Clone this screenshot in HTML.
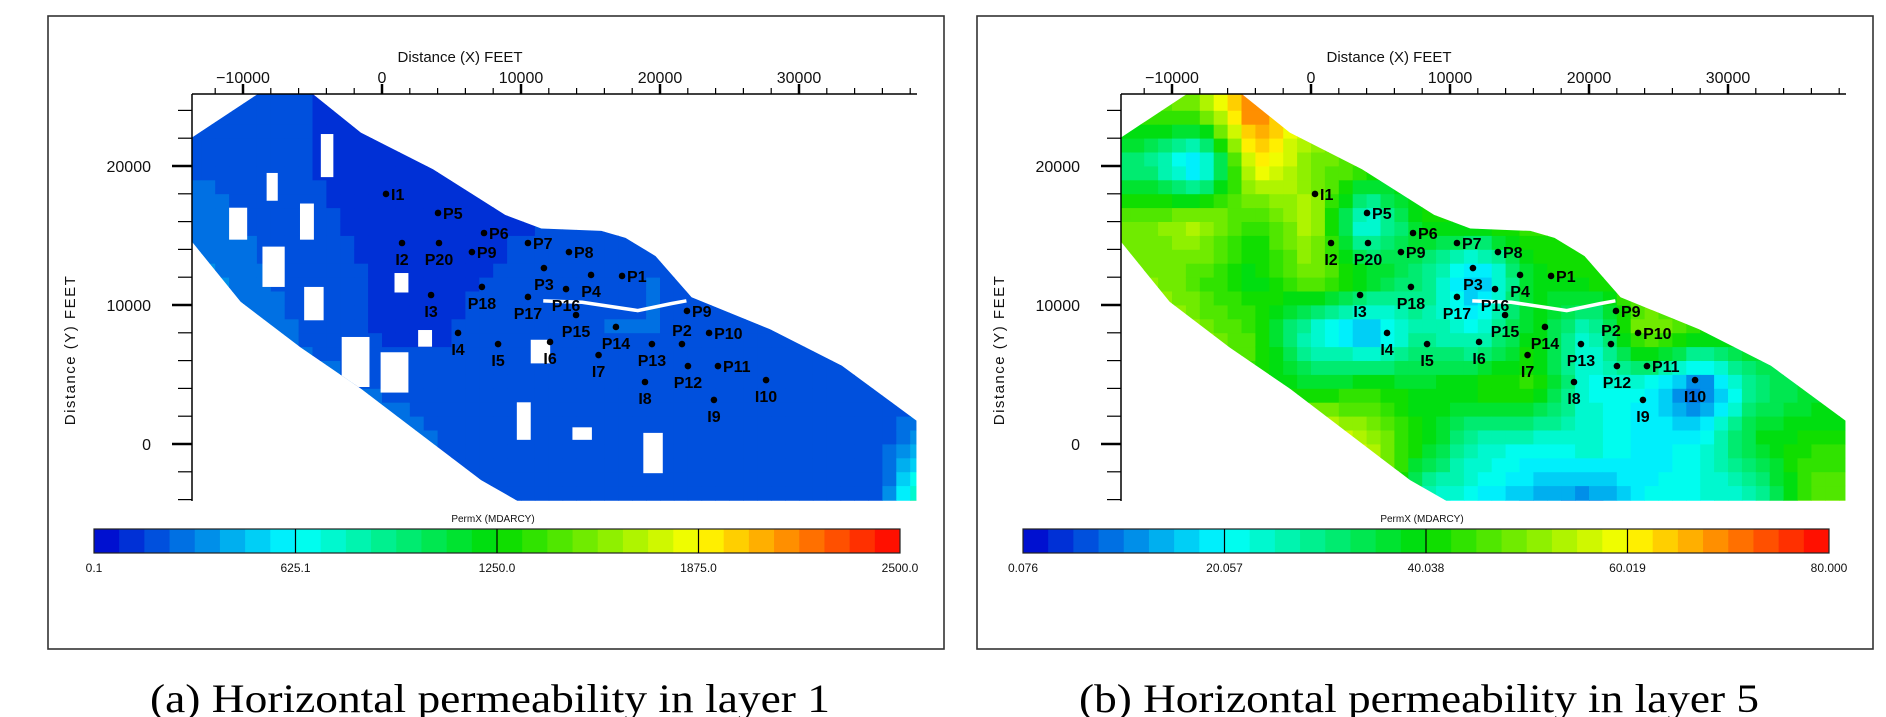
<!DOCTYPE html>
<html><head><meta charset="utf-8"><title>Horizontal permeability</title>
<style>
html,body{margin:0;padding:0;background:#fff;}
svg{display:block;}
text{font-family:"Liberation Sans",sans-serif;}
.tick{font-size:16px;fill:#111;}
.ttl{font-size:15px;fill:#111;}
.well{font-family:"Liberation Sans Narrow","Liberation Sans",sans-serif;font-weight:bold;font-size:16px;fill:#000;}
.cap{font-family:"Liberation Serif",serif;font-size:40px;fill:#000;}
</style></head>
<body>
<svg id="fig" width="1886" height="717" viewBox="0 0 1886 717" xmlns="http://www.w3.org/2000/svg"></svg>
<script>
// ---------- data ----------
const wellNames = ["I1","P5","P6","P7","I2","P20","P9","P8","P3","P4","P1","I3","P18","P17","P16","P9","P15","P14","P10","P2","I4","I5","I6","P13","I7","P11","P12","I8","I10","I9"];
const wellX = [288,4030,7340,10500,1440,4100,6470,13450,11650,15040,17270,3530,7190,10500,13240,21940,13960,16830,23530,21580,5470,8350,12090,19420,15580,24170,22010,18920,27630,23880];
const wellY = [17990,16620,15180,14460,14460,14460,13810,13810,12660,12160,12090,10720,11300,10580,11150,9570,9280,8420,7990,7190,7990,7190,7340,7190,6400,5610,5610,4460,4600,3170];
const wellLabelSide = ["r","r","r","r","b","b","r","r","b","b","r","b","b","b","b","r","b","b","r","a","b","b","b","b","b","r","b","b","b","b"];
const boundaryX = [-13640,-8900,-5000,-1520,3670,8860,11460,15780,17520,19680,22270,27900,33090,38450,38450,9730,7130,2800,-1520,-5850,-10170,-13640];
const boundaryY = [22070,25200,25200,22400,19770,16480,15500,15330,14830,13520,10560,8260,5630,1680,-4080,-4080,-2600,690,3980,6940,10230,14510];
const faultX = [11600,14400,18400,20800,21900];
const faultY = [10300,10200,9600,10100,10300];
const gridXCenters = [-12000,-8000,-4000,0,4000,8000,12000,16000,20000,24000,28000,32000,36000,40000];
const gridYCenters = [24000,20000,16000,12000,8000,4000,0,-4000];
const layer1Perm = [
 [220,170,150,140,140,140,140,140,140,140,140,140,140,140],
 [220,170,150,140,140,140,140,140,140,140,140,140,140,140],
 [260,200,160,140,140,140,160,190,190,140,140,140,140,140],
 [320,230,170,150,140,160,190,190,240,160,140,140,140,140],
 [380,280,180,150,140,190,190,240,240,190,160,160,160,160],
 [400,340,280,210,190,160,190,190,190,220,190,160,170,190],
 [420,420,650,400,220,190,190,160,160,190,190,160,190,450],
 [420,420,560,750,240,190,190,160,160,160,190,190,240,1200]];
const layer5Perm = [
 [45,50,72,55,40,40,40,40,40,40,40,40,40,40],
 [30,12,62,50,45,40,40,40,40,40,40,40,40,40],
 [48,55,42,55,18,40,42,45,42,40,40,40,40,40],
 [50,45,38,50,40,30,12,38,42,45,40,40,40,40],
 [58,50,45,22,12,28,22,40,22,52,42,40,40,40],
 [58,58,42,38,42,38,42,44,22,20,5,30,35,35],
 [45,45,45,66,55,40,25,22,25,18,22,38,42,42],
 [45,45,45,45,60,25,20,14,10,20,22,25,48,48]];
const layer1HolesX = [-8300,-4400,-11000,-5900,-8600,-5600,-2900,-100,10700,13700,18800,9700,2600,900];
const layer1HolesY = [17500,19200,14700,14700,11300,8900,4100,3700,5800,300,-2100,300,7000,10900];
const layer1HolesW = [800,900,1300,1000,1600,1400,2000,2000,1400,1400,1400,1000,1000,1000];
const layer1HolesH = [2000,3100,2300,2600,2900,2400,3600,2900,1700,900,2900,2700,1200,1400];
const xTickLabels = [-10000,0,10000,20000,30000];
const yTickLabels = [0,10000,20000];
const cbLabels1 = ["0.1","625.1","1250.0","1875.0","2500.0"];
const cbLabels5 = ["0.076","20.057","40.038","60.019","80.000"];
const cbMax1 = 2500, cbMax5 = 80;

// ---------- helpers ----------
const NS = "http://www.w3.org/2000/svg";
const svg = document.getElementById("fig");
function mk(tag, attrs, parent){ const e=document.createElementNS(NS,tag); for(const k in attrs) e.setAttribute(k,attrs[k]); (parent||svg).appendChild(e); return e; }
const stops=[[0,[0,0,205]],[0.25,[0,255,255]],[0.5,[0,220,0]],[0.75,[255,255,0]],[1,[255,0,0]]];
function cmap(v){ let s=Math.min(31,Math.max(0,Math.floor(v*32))); const t=(s+0.5)/32;
  for(let i=0;i<stops.length-1;i++){ const a=stops[i],b=stops[i+1]; if(t<=b[0]){ const f=(t-a[0])/(b[0]-a[0]); const c=a[1].map((x,k)=>Math.round(x+(b[1][k]-x)*f)); return `rgb(${c[0]},${c[1]},${c[2]})`; } }
  return "rgb(255,0,0)"; }
function sample(grid, x, y){
  let fx=(x-gridXCenters[0])/4000, fy=(gridYCenters[0]-y)/4000;
  fx=Math.max(0,Math.min(gridXCenters.length-1.001,fx)); fy=Math.max(0,Math.min(gridYCenters.length-1.001,fy));
  const i=Math.floor(fx), j=Math.floor(fy), a=fx-i, b=fy-j;
  return grid[j][i]*(1-a)*(1-b)+grid[j][i+1]*a*(1-b)+grid[j+1][i]*(1-a)*b+grid[j+1][i+1]*a*b; }

const SC = 0.0139; // px per foot
function drawPanel(p){
  const ox=p.ox, X0=ox+382, Y0=444;
  const sx=v=>X0+v*SC, sy=v=>Y0-v*SC;
  const axL=ox+192, axR=ox+917, axT=94, axB=501;
  const g=mk("g",{});
  
  
  const fr=mk("rect",{x:ox+48,y:16,width:896,height:633,fill:"none",stroke:"#333","stroke-width":1.6},g);
  
  
  const cp=mk("clipPath",{id:p.id+"-clip"},g);
  mk("polygon",{points:boundaryX.map((x,i)=>sx(x)+","+sy(boundaryY[i])).join(" ")},cp);
  const map=mk("g",{"clip-path":`url(#${p.id}-clip)`},g);
  
  
  const step=1000;
  for(let x=-14000;x<39000;x+=step){
    for(let y=-5000;y<26000;y+=step){
      const v=sample(p.grid,x+step/2,y+step/2)/p.max;
      const c=mk("rect",{x:sx(x).toFixed(2),y:sy(y+step).toFixed(2),width:(step*SC+0.4).toFixed(2),height:(step*SC+0.4).toFixed(2),fill:cmap(v)},map);
      
      
    }
  }
  if(p.holes){
    for(let k=0;k<layer1HolesX.length;k++){
      const h=mk("rect",{x:sx(layer1HolesX[k]),y:sy(layer1HolesY[k]+layer1HolesH[k]),width:layer1HolesW[k]*SC,height:layer1HolesH[k]*SC,fill:"#fff"},map);
      
      
    }
  }
  const f=mk("polyline",{points:faultX.map((x,i)=>sx(x)+","+sy(faultY[i])).join(" "),fill:"none",stroke:"#fff","stroke-width":3.5},g);
  
  
  const xa=mk("line",{x1:axL,y1:axT,x2:axR,y2:axT,stroke:"#000","stroke-width":1.5},g);
  
  
  const ya=mk("line",{x1:axL,y1:axT,x2:axL,y2:axB,stroke:"#000","stroke-width":1.5},g);
  
  
  for(let v=-14000;v<=40000;v+=2000){ const x=sx(v); if(x<axL||x>axR) continue; const maj=v%10000===0;
    mk("line",{x1:x,y1:axT,x2:x,y2:axT-(maj?10:6),stroke:"#000","stroke-width":maj?2.5:1.2},g); }
  for(let v=-4000;v<=26000;v+=2000){ const y=sy(v); if(y<axT||y>axB) continue; const maj=v%10000===0;
    mk("line",{x1:axL,y1:y,x2:axL-(maj?20:14),y2:y,stroke:"#000","stroke-width":maj?2.5:1.2},g); }
  xTickLabels.forEach(v=>{ const t=mk("text",{x:sx(v),y:83,"text-anchor":"middle",class:"tick"},g); t.textContent=(v<0?"\u2212":"")+Math.abs(v);
    
     });
  yTickLabels.forEach(v=>{ const t=mk("text",{x:ox+151,y:sy(v)+6,"text-anchor":"end",class:"tick"},g); t.textContent=v;
    
     });
  const xt=mk("text",{x:ox+460,y:62,"text-anchor":"middle",class:"ttl","xml:space":"preserve"},g); xt.textContent="Distance (X)   FEET";
  
  
  const yt=mk("text",{x:0,y:0,"text-anchor":"middle",class:"ttl","xml:space":"preserve",transform:`translate(${ox+75},350) rotate(-90)`,"letter-spacing":"1.5"},g); yt.textContent="Distance  (Y)     FEET";
  
  
  wellNames.forEach((n,i)=>{ const x=sx(wellX[i]), y=sy(wellY[i]);
    const d=mk("circle",{cx:x,cy:y,r:3.3,fill:"#000"},g);
    
    
    const s=wellLabelSide[i]; let tx=x+5, ty=y+6, an="start";
    if(s==="b"){tx=x;ty=y+22;an="middle";} if(s==="a"){tx=x;ty=y-8;an="middle";}
    const t=mk("text",{x:tx,y:ty,"text-anchor":an,class:"well"},g); t.textContent=n;
    
     });
  const cbL=ox+94, cbW=806, cbT=529, cbH=24;
  for(let s=0;s<32;s++){ const r=mk("rect",{x:cbL+s*cbW/32,y:cbT,width:cbW/32+0.5,height:cbH,fill:cmap((s+0.5)/32)},g);
    
     }
  const cb=mk("rect",{x:cbL,y:cbT,width:cbW,height:cbH,fill:"none",stroke:"#222","stroke-width":1.2},g);
  
  
  p.labels.forEach((l,k)=>{ const x=cbL+k*cbW/4; if(k>0&&k<4) mk("line",{x1:x,y1:cbT,x2:x,y2:cbT+cbH,stroke:"#000","stroke-width":1.2},g);
    const t=mk("text",{x:x,y:572,"text-anchor":"middle",style:"font-size:12px;fill:#111"},g); t.textContent=l;
    
     });
  const ct=mk("text",{x:ox+493,y:522,"text-anchor":"middle",style:"font-size:10px;fill:#111"},g); ct.textContent="PermX (MDARCY)";
  
  
  const cap=mk("text",{x:ox+490,y:712,"text-anchor":"middle",class:"cap",textLength:680,lengthAdjust:"spacingAndGlyphs"},g); cap.textContent=p.caption;
  
  
}
drawPanel({id:"layer1",ox:0,grid:layer1Perm,max:cbMax1,labels:cbLabels1,holes:true,caption:"(a) Horizontal permeability in layer 1"});
drawPanel({id:"layer5",ox:929,grid:layer5Perm,max:cbMax5,labels:cbLabels5,holes:false,caption:"(b) Horizontal permeability in layer 5"});
</script>
</body></html>
